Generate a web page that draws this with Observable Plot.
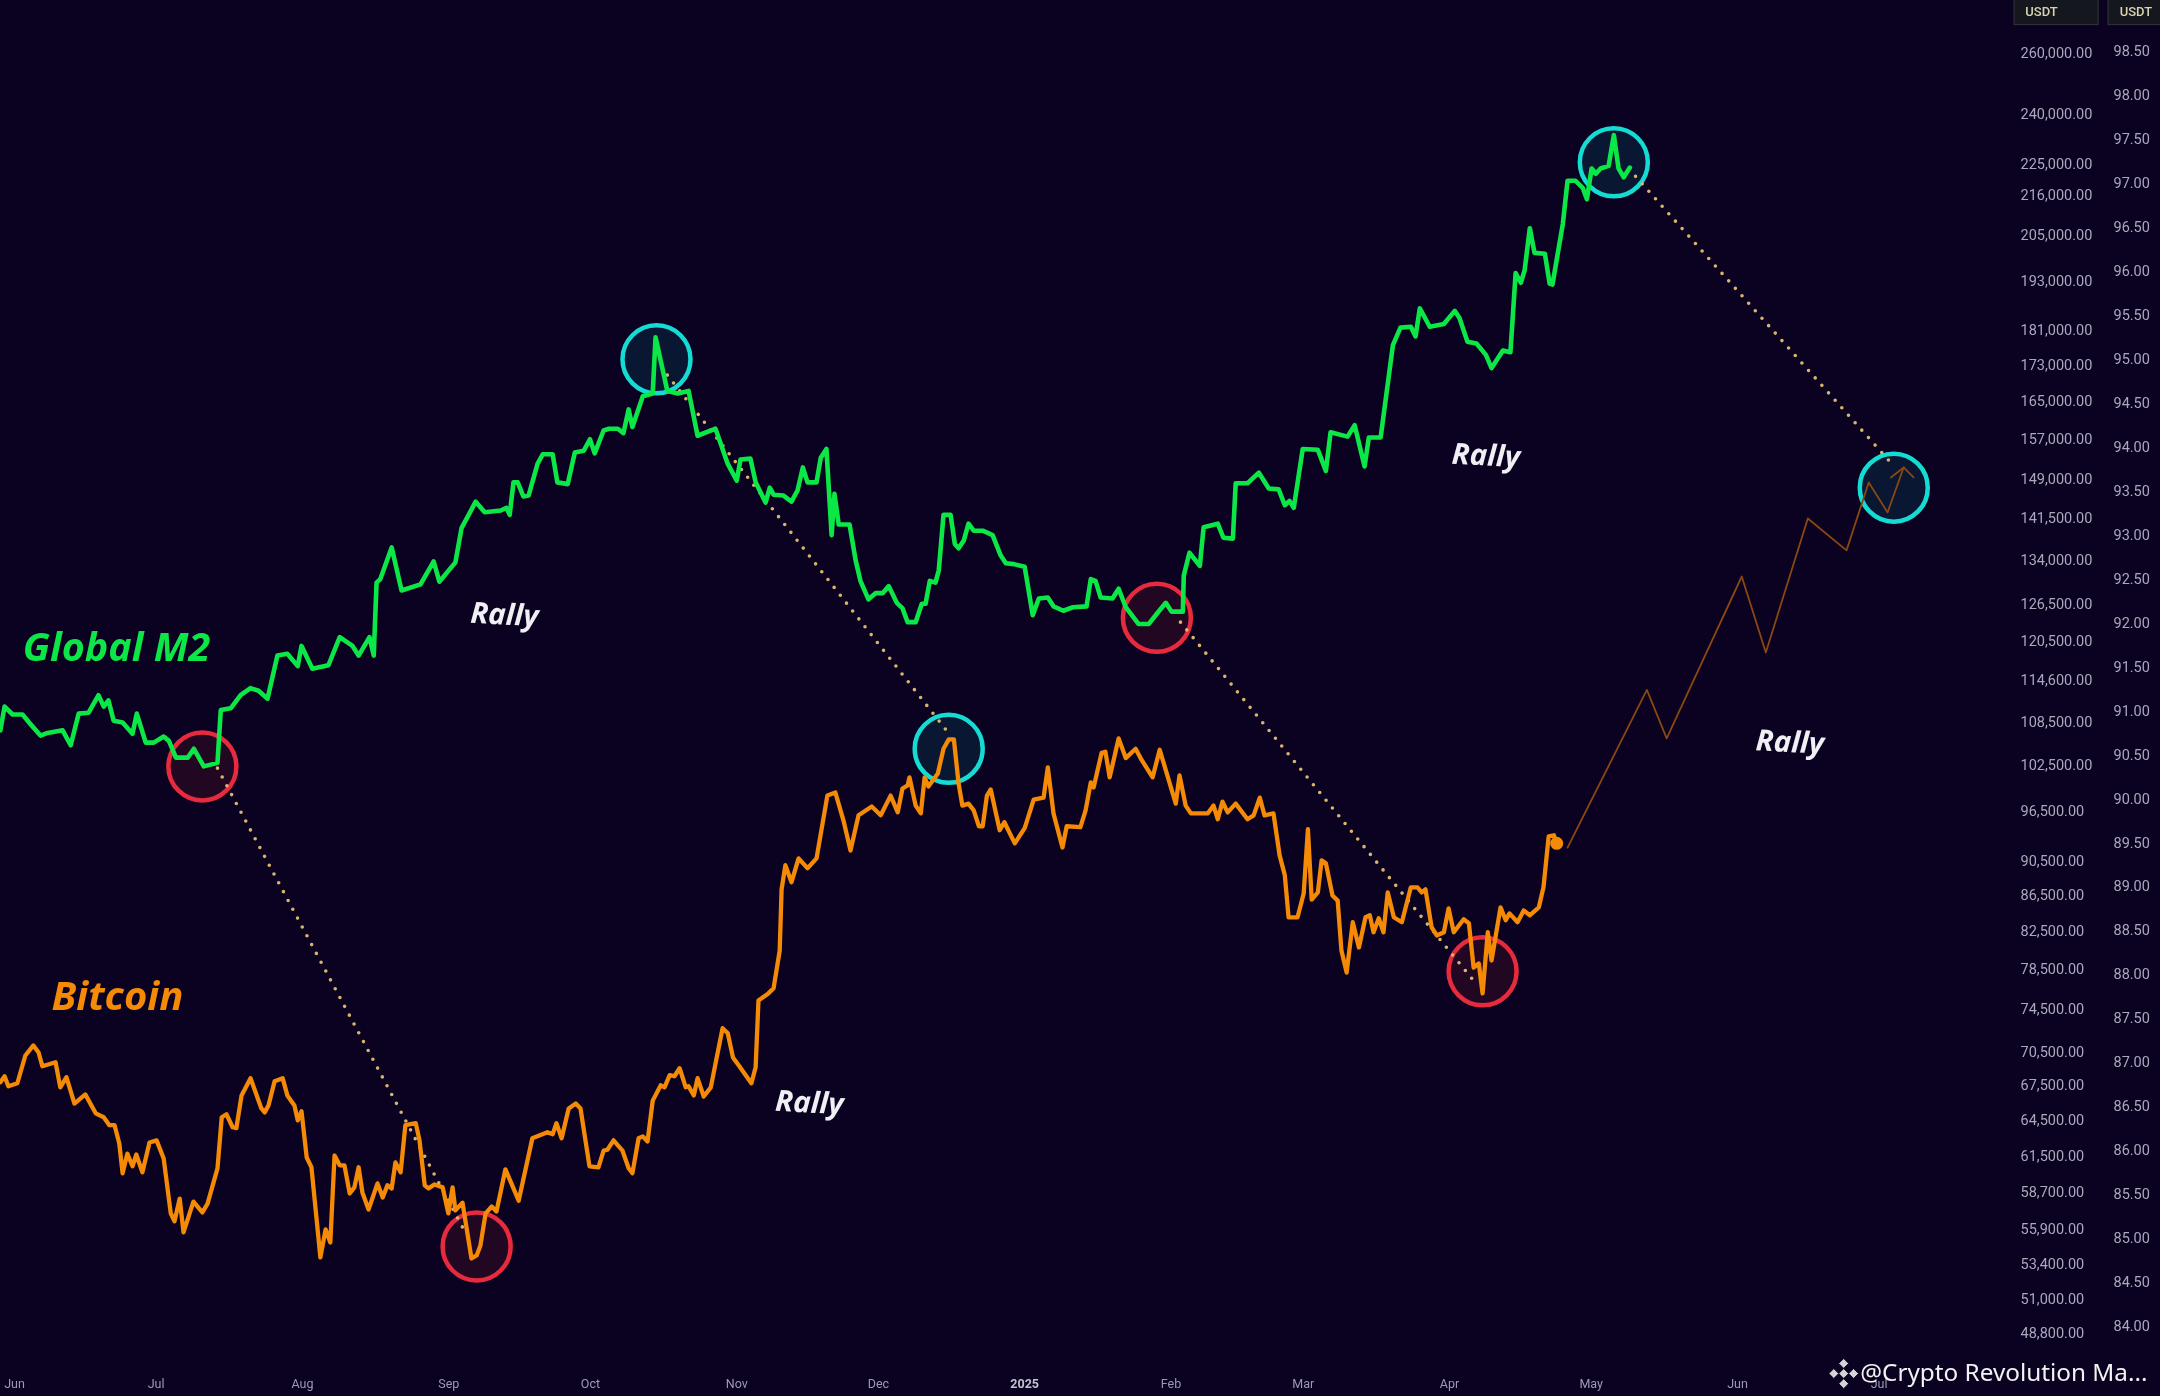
<!DOCTYPE html>
<html><head><meta charset="utf-8">
<script src="https://cdn.jsdelivr.net/npm/d3@7"></script>
<script src="https://cdn.jsdelivr.net/npm/@observablehq/plot@0.6"></script>
<style>html,body{margin:0;padding:0;background:#0a0220;overflow:hidden}svg{display:block;filter:blur(0.5px)}</style>
</head><body>
<div id="chart"></div>
<script>
// Day offsets are counted from 2024-06-01
const m2Days = [-3,-2.1,-0.4,1.7,3.4,5.5,7,10.2,11.9,13.6,15.7,17.8,18.9,19.9,21,22.9,25,25.9,27.8,29.5,31.6,32.7,34.2,36.7,38,40.1,43,43.7,45.8,47.9,50,51.7,53.6,55.7,57.8,60,60.8,63.1,66.5,68.9,71.6,72.9,75.2,76.1,76.7,77.5,79.9,82,86,88.8,90,93.4,94.7,97.7,99.6,103,104.2,104.9,105.7,106.6,107.8,108.9,110.8,111.9,114,115,117.2,118.7,120.6,121.9,122.9,124.8,125.9,127.8,129,130.1,130.9,133.1,135.2,135.8,138.3,140.5,142.8,144.7,148.5,151.1,153,153.8,155.9,157,159.1,160,160.8,162.9,164.6,165.9,167,168,169.9,170.8,172,173.1,173.7,174.6,176.9,178.2,179.2,180.9,182.4,183.9,185.2,186.9,188.1,189.2,190.9,192.2,193,193.9,195.1,195.8,196.8,198.3,199.2,200,201.1,202.1,203.2,205.1,207.2,208.9,210,211.7,214,215.7,217,218.9,220.1,222.2,224.2,227.1,228,229,230.1,232.6,233.9,235.4,238.1,240.3,242.2,243.9,245.1,247.5,247.7,248.9,251.1,251.9,254.9,256.1,258.1,258.7,261.2,263.6,265.7,267.8,269.1,270.1,271,272.9,276.1,277.8,278.8,282.4,283.9,286,286.9,289.4,292,293.6,295.8,296.8,297.7,299.8,302.8,305.1,306.1,307.8,309.7,311.7,312.9,315.3,316.9,318,319.1,319.9,321,322,324.2,325.2,325.8,328,329,330.7,332.2,333.1,334.1,335,336,337.7,338.8,339.8,340.9,342.2];
const m2Values = [90.78,91.05,90.96,90.96,90.85,90.72,90.75,90.78,90.61,90.97,90.98,91.18,91.05,91.12,90.89,90.87,90.74,90.97,90.64,90.64,90.71,90.66,90.47,90.47,90.57,90.37,90.41,91.01,91.03,91.18,91.26,91.23,91.14,91.63,91.65,91.51,91.74,91.48,91.52,91.84,91.74,91.63,91.84,91.63,92.46,92.5,92.86,92.37,92.44,92.7,92.47,92.69,93.08,93.38,93.26,93.28,93.31,93.23,93.6,93.6,93.44,93.45,93.81,93.92,93.92,93.6,93.58,93.94,93.96,94.09,93.93,94.19,94.21,94.21,94.16,94.43,94.23,94.58,94.61,95.25,94.64,94.61,94.64,94.13,94.21,93.81,93.62,93.86,93.87,93.6,93.37,93.54,93.46,93.45,93.38,93.51,93.77,93.6,93.6,93.88,93.98,93,93.47,93.12,93.12,92.71,92.48,92.27,92.34,92.34,92.42,92.23,92.17,92.01,92.01,92.22,92.22,92.48,92.46,92.6,93.23,93.23,92.9,92.85,92.94,93.13,93.05,93.05,93,92.77,92.68,92.67,92.64,92.09,92.28,92.29,92.19,92.14,92.18,92.19,92.5,92.48,92.29,92.28,92.39,92.18,91.99,91.99,92.12,92.23,92.13,92.13,92.54,92.8,92.65,93.09,93.13,92.97,92.96,93.59,93.59,93.71,93.53,93.52,93.34,93.39,93.31,93.98,93.97,93.73,94.17,94.12,94.25,93.78,94.11,94.11,95.16,95.36,95.37,95.26,95.58,95.37,95.4,95.55,95.47,95.2,95.18,95.05,94.9,95.1,95.08,95.98,95.87,96.01,96.49,96.21,96.2,95.86,95.85,96.54,97.03,97.03,96.95,96.82,97.17,97.11,97.17,97.2,97.55,97.17,97.07,97.18];

const btcDays = [-3,-2.1,-1.3,0.6,2.3,4,5.1,5.9,8.7,9.7,11,12.7,15,17.2,18.9,20.1,21.2,22.2,22.9,23.9,25,25.8,27.1,28.6,30.1,31.6,33.1,33.9,35,35.8,37.9,39.8,40.9,43,43.9,44.9,46.2,47,48.1,50,52.3,53,53.8,55.1,56.8,57.8,59.3,60,60.8,61.9,62.9,64.8,65.9,66.9,67.8,68.9,69.9,71,72,72.9,73.7,75,76.9,78,79,79.9,80.7,81.8,82.8,85,85.8,86.9,87.7,89,90.7,91.9,92.8,93.4,94.9,96.8,97.9,98.7,99.8,101.1,102.1,104,106.8,109.7,112.9,114,114.8,115.9,117.4,118.9,119.9,121.8,123.7,124.8,125.6,126.9,128.8,130.1,130.9,132.2,133.1,134.1,135.2,136.9,137.7,138.8,139.8,140.9,142.2,142.8,143.9,144.7,146,147.5,150,151.1,152.2,153.4,156.1,157,157.6,159.7,160.8,162.1,162.5,163.3,164.6,166.1,168,169.9,172.2,173.9,175.6,177.1,178.8,181.6,183.5,185.6,187.1,188.1,189.2,189.6,190.9,192,192.8,193.6,195.6,196.8,197.9,199,200,200.8,202.1,203.2,204.3,205.1,206,206.8,208.7,209.7,211.9,214,215.9,218,218.9,220.1,222,222.9,225.8,226.9,228,228.6,230.3,231.1,232,233.9,235.4,237.5,238.6,241.1,242.6,246,246.8,248.1,249.2,252.8,254,254.9,255.9,257,258.7,261.2,262.5,263.8,264.8,266.7,268,269.1,269.9,271.8,273.1,274,274.8,276.1,276.9,277.8,279.2,280.3,281.1,282.2,283.5,284.8,286.2,287.1,287.9,289,290,290.9,292.2,293.9,295.8,297.2,298.1,298.9,300.2,301.3,302.8,303.8,304.9,307,308.1,309.1,310.2,311,312.1,312.9,314.8,315.9,316.7,318.4,319.7,321,322.9,323.9,325,326.1,326.7];
const btcPrices = [67770,68300,67410,67680,70180,71110,70450,69200,69560,67320,68220,65910,66700,65070,64740,64070,64070,62560,60170,61730,60720,61660,60250,62640,62810,61340,57100,56510,58210,55700,57980,57170,57830,60560,64740,64990,63900,63820,66610,68130,65490,65150,65740,67860,68130,66610,65740,64480,65240,61420,60640,53900,55920,54970,61580,60800,60800,58600,59070,60640,58680,57390,59380,58290,59230,58990,61030,60250,64070,64240,62810,59230,58990,59300,59070,57100,59070,57320,57900,53830,54040,54750,57100,57610,57240,60480,58050,62980,63480,63310,64240,62980,65490,65910,65490,60720,60640,61970,62050,62810,61970,60560,60170,62980,63140,62720,66160,67500,67320,68400,68300,69020,67320,67410,66610,68130,66520,67320,72730,72250,70000,69290,67680,69110,75400,76110,76620,80490,87200,89990,88010,90800,89640,90800,98560,98950,95430,91730,96050,97160,96050,98560,96420,99480,99880,100940,97280,96300,100940,99750,101460,104780,106060,106060,100100,97280,97530,96670,94690,94690,98560,99350,94200,95190,92600,94450,98030,98300,102260,96300,92100,94690,94570,96670,100280,99620,104240,104370,100940,106210,103510,104780,103440,100940,104640,97530,101200,97280,96300,96300,97280,95560,97780,96420,97530,95560,96050,98300,96050,96300,91150,88830,84070,84070,86730,94320,86040,86850,90570,90220,86500,85920,80490,78210,83530,80820,84070,84290,82440,83960,82440,86850,84070,83530,87430,87430,86850,87200,82980,82100,82440,85050,82440,83850,83420,78730,79140,76110,82440,79470,85160,83740,84500,83530,84830,84290,85160,87430,93460,93580,92600];

const forecastDays = [329,345.8,350,365.9,371,379.9,388.1,392.8,396.8,400.2];
const forecastPrices = [92080,113160,106200,131230,118820,141570,135790,148390,142690,151330];
const arrowDays = [397.5,400.2,402.3];
const arrowPrices = [149360,151330,149360];
const lastBtcDay = [326.7];
const lastBtcPrice = [92600];

const redDays = [39.8,97.9,242,311];
const redValues = [90.37,84.91,92.06,88.04];
const cyanDays = [136,197.9,338.8,398.1];
const cyanValues = [95,90.57,97.24,93.54];

const dotFromDays = [43,138.3,247,343.4];
const dotFromValues = [90.35,94.82,92.01,97.08];
const dotToDays = [95.1,197.7,309.3,397.7];
const dotToValues = [85.11,90.76,87.92,93.81];

const rallyDays = [103.8,168.4,311.7,376.1];
const rallyValues = [92.09,86.54,93.9,90.64];

const m2Ticks = d3.range(84,98.51,0.5);
const btcTicks = [260000,240000,225000,216000,205000,193000,181000,173000,165000,157000,149000,141500,134000,126500,120500,114600,108500,102500,96500,90500,86500,82500,78500,74500,70500,67500,64500,61500,58700,55900,53400,51000,48800];
const monthDates = ["2024-06-01","2024-07-01","2024-08-01","2024-09-01","2024-10-01","2024-11-01","2024-12-01","2025-02-01","2025-03-01","2025-04-01","2025-05-01","2025-06-01","2025-07-01"].map(s=>new Date(s));
const yearDates = [new Date("2025-01-01")];

const day = d => new Date(Date.UTC(2024,5,1) + d*864e5);
// log price axis aligned against the linear M2 axis
const btcToM2 = d3.scaleLog().domain([48800,260000]).range([83.92,98.48]);
const rows = (days,vals) => d3.zip(days,vals).map(([d,v])=>({date:day(d),value:v}));
const btcRows = (days,prices) => d3.zip(days,prices).map(([d,p])=>({date:day(d),value:btcToM2(p)}));
const dotRuns = dotFromDays.flatMap((d,i)=>[
  {run:i,date:day(d),value:dotFromValues[i]},
  {run:i,date:day(dotToDays[i]),value:dotToValues[i]}]);

const bg = "#0a0220", tickColor = "#aaa8bb";
const sans = "Roboto, sans-serif", opens = "'Open Sans', sans-serif";
const annot = {fontFamily:opens,fontWeight:700,fontStyle:"italic"};

const chart = Plot.plot({
  width:2160,height:1396,margin:0,
  style:{background:bg,fontFamily:sans},
  x:{type:"utc",domain:[day(0),day(365)],range:[14,1737]},
  y:{type:"linear",domain:[98.5,84],range:[51,1326]},
  marks:[
    Plot.rect([{a:423.7,b:441.5},{a:443.6,b:458.5}],{x1:d=>day(d.a),x2:d=>day(d.b),y1:99.1,y2:98.8,fill:"#15171e",stroke:"#34363e",strokeWidth:1}),
    Plot.text([{d:429.4},{d:449.4}],{x:d=>day(d.d),y:98.95,text:()=>"USDT",fill:"#d8d4ae",fontSize:13,fontWeight:500}),
    Plot.dot(rows(redDays,redValues),{x:"date",y:"value",r:34,fill:"#d8303c",fillOpacity:0.12,stroke:"#e82a3e",strokeWidth:4.5}),
    Plot.dot(rows(cyanDays,cyanValues),{x:"date",y:"value",r:34,fill:"#12a8b8",fillOpacity:0.13,stroke:"#14dcd2",strokeWidth:4.5}),
    Plot.line(dotRuns,{x:"date",y:"value",z:"run",stroke:"#d9b56c",strokeWidth:3.6,strokeDasharray:"0 10",strokeLinecap:"round"}),
    Plot.line(btcRows(forecastDays,forecastPrices),{x:"date",y:"value",stroke:"#8a4712",strokeWidth:1.8}),
    Plot.line(btcRows(arrowDays,arrowPrices),{x:"date",y:"value",stroke:"#8a4712",strokeWidth:1.8}),
    Plot.line(rows(m2Days,m2Values),{x:"date",y:"value",stroke:"#0ce748",strokeWidth:4.6,strokeLinejoin:"round"}),
    Plot.line(btcRows(btcDays,btcPrices),{x:"date",y:"value",stroke:"#f58a06",strokeWidth:4.3,strokeLinejoin:"round"}),
    Plot.dot(btcRows(lastBtcDay,lastBtcPrice),{x:"date",y:"value",r:6.5,fill:"#f58a06"}),
    Plot.text(rows([21.6],[91.71]),{x:"date",y:"value",text:()=>"Global M2",fill:"#0ce748",fontSize:39.5,...annot}),
    Plot.text(rows([21.8],[87.74]),{x:"date",y:"value",text:()=>"Bitcoin",fill:"#f58a06",fontSize:40,...annot}),
    Plot.text(rows(rallyDays,rallyValues),{x:"date",y:"value",text:()=>"Rally",fill:"#f0f0f4",fontSize:29.5,rotate:3,...annot}),
    Plot.axisY(m2Ticks,{anchor:"right",tickSize:0,tickPadding:-47,label:null,tickFormat:d3.format(".2f"),fill:tickColor,fontSize:14.5,textAnchor:"start"}),
    Plot.axisY(btcTicks.map(t=>btcToM2(t)),{anchor:"right",tickSize:0,tickPadding:-140,label:null,tickFormat:v=>d3.format(",.2f")(Math.round(btcToM2.invert(v)/100)*100),fill:tickColor,fontSize:14.5,textAnchor:"start"}),
    Plot.axisX(monthDates,{anchor:"bottom",tickSize:0,tickPadding:-17,label:null,tickFormat:d3.utcFormat("%b"),fill:"#9d9bb0",fontSize:12.5}),
    Plot.axisX(yearDates,{anchor:"bottom",tickSize:0,tickPadding:-17,label:null,tickFormat:d3.utcFormat("%Y"),fill:"#c4c2d0",fontSize:12.5,fontWeight:700}),
    Plot.dot(rows([387.5,385.4,389.6,387.5,387.5],[83.465,83.465,83.465,83.58,83.35]),{x:"date",y:"value",symbol:"diamond2",r:4.5,fill:"#d4d4d8",stroke:bg,strokeWidth:1}),
    Plot.text(rows([391],[83.465]),{x:"date",y:"value",text:()=>"@Crypto Revolution Ma...",fill:"#f2f2f2",fontSize:24.3,textAnchor:"start",fontFamily:"'Noto Sans', sans-serif"})
  ]
});
document.getElementById("chart").appendChild(chart);
</script>
</body></html>
